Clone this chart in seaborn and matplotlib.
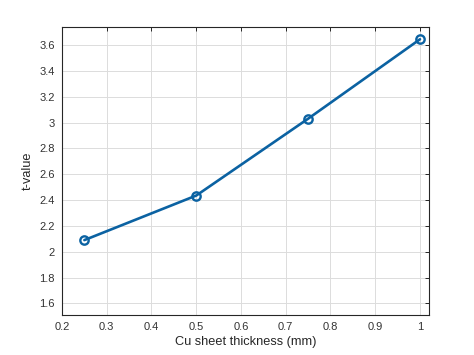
import matplotlib
matplotlib.use("Agg")
import matplotlib.pyplot as plt
import seaborn as sns
import pandas as pd

thickness = [0.25, 0.5, 0.75, 1.0]
t_value = [2.09, 2.435, 3.03, 3.645]
xticks = [0.2, 0.3, 0.4, 0.5, 0.6, 0.7, 0.8, 0.9, 1.0]
xticklabels = ["0.2", "0.3", "0.4", "0.5", "0.6", "0.7", "0.8", "0.9", "1"]
yticks = [1.6, 1.8, 2.0, 2.2, 2.4, 2.6, 2.8, 3.0, 3.2, 3.4, 3.6]
yticklabels = ["1.6", "1.8", "2", "2.2", "2.4", "2.6", "2.8", "3", "3.2", "3.4", "3.6"]

sns.set_style("white")
plt.rcParams['font.family'] = ['Liberation Sans', 'DejaVu Sans']

df = pd.DataFrame({"x": thickness, "y": t_value})

line_color = "#0b62a2"

fig = plt.figure(figsize=(4.74, 3.55), dpi=100)
ax = fig.add_axes([62/474, 1 - 315/355, (428.7-62)/474, (315-27)/355])

sns.lineplot(data=df, x="x", y="y", ax=ax, color=line_color, linewidth=1.9,
             marker="o", markersize=6, markerfacecolor="none",
             markeredgecolor=line_color, markeredgewidth=1.7)

ax.set_xlim(0.2, 1.0195)
ax.set_ylim(1.51, 3.74)
ax.set_xticks(xticks)
ax.set_xticklabels(xticklabels)
ax.set_yticks(yticks)
ax.set_yticklabels(yticklabels)
ax.grid(True, color="#dcdcdc", linewidth=0.7)
ax.set_axisbelow(True)
ax.tick_params(direction="in", length=3, width=0.7, colors="#262626",
               labelsize=8, top=True, right=True, labeltop=False, labelright=False,
               pad=5)
for lab in ax.get_xticklabels() + ax.get_yticklabels():
    lab.set_color("#333333")
for s in ax.spines.values():
    s.set_color("#262626")
    s.set_linewidth(0.8)
ax.set_xlabel("Cu sheet thickness (mm)", fontsize=9.2, color="#262626", labelpad=3)
ax.set_ylabel("t-value", fontsize=9.2, color="#262626", labelpad=4)

fig.savefig("out.png", dpi=100, facecolor="white")
